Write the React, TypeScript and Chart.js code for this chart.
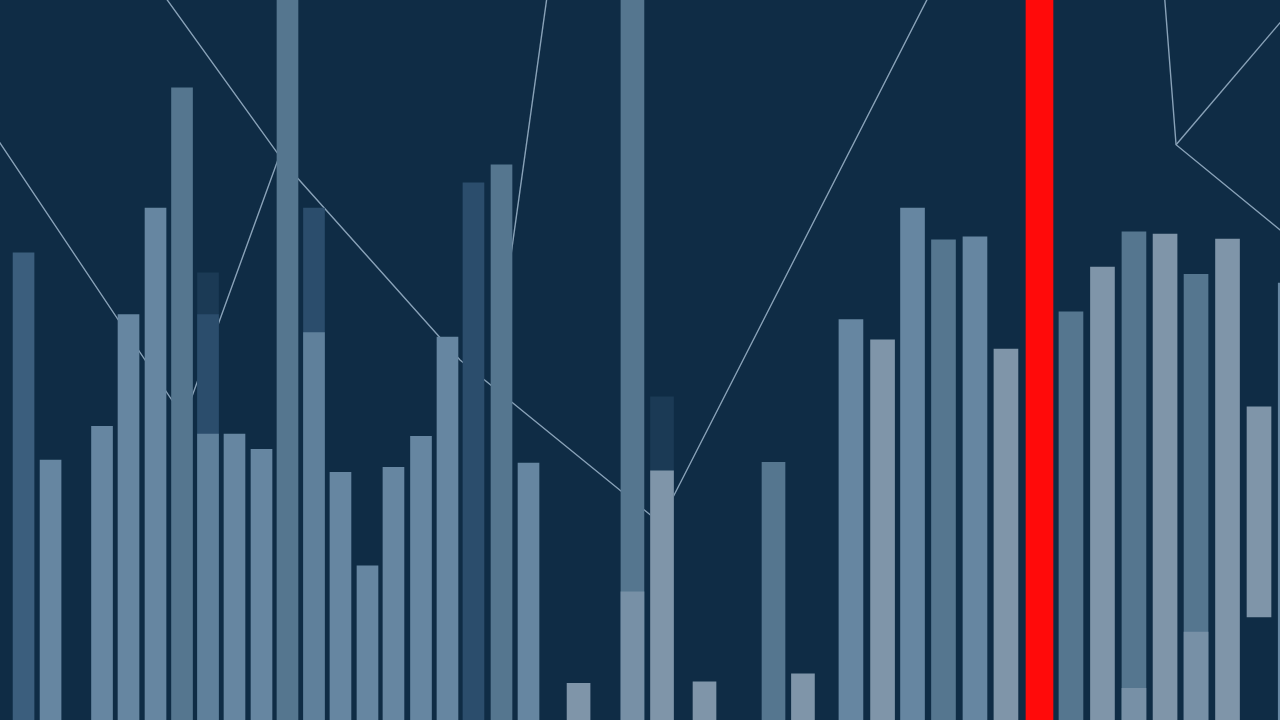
import { useEffect, useRef } from "react";
import { Chart, registerables } from "chart.js";

Chart.register(...registerables);

// ---- Bar series (x = position on a 0–100 horizontal axis, y = value 0–100) ----
const deepX = [1.84];
const deepY = [64.9];

const lightX = [3.95, 7.97, 10.04, 12.15, 18.32, 20.43, 26.6, 28.71, 30.74, 32.89, 34.96, 41.29, 66.48, 71.29, 76.17, 100.8];
const lightY = [36.1, 40.8, 56.3, 71.1, 39.7, 37.6, 34.4, 21.4, 35.1, 39.4, 53.2, 35.7, 55.6, 71.1, 67.1, 60.7];

const midX = [14.22, 22.46, 39.18, 49.41, 60.43, 73.71, 83.67, 88.59, 93.44];
const midY = [87.8, 100, 77.1, 100, 35.8, 66.7, 56.7, 67.8, 61.9];

const darkX = [16.25, 24.53, 36.99];
const darkY = [56.3, 71.1, 74.6];

const paleX = [45.2, 51.72, 55.04, 62.73, 68.95, 78.59, 86.13, 91.02, 95.9];
const paleY = [5.1, 34.6, 5.3, 6.4, 52.8, 51.5, 62.9, 67.5, 66.8];

const redX = [81.21];
const redY = [100];

// faint bars standing behind others
const ghostX = [16.25, 51.72];
const ghostY = [62.1, 44.9];

// lighter lower segments in front of taller bars
const lowerLightX = [16.25, 24.53];
const lowerLightY = [39.7, 53.8];
const lowerPaleX = [49.41, 88.59, 93.44];
const lowerPaleY = [17.8, 4.4, 12.2];

// floating bar (low, high)
const floatX = [98.36];
const floatLow = [14.3];
const floatHigh = [43.5];

// ---- Thin line series ----
const lineAX = [-1.56, 14.38, 22.42];
const lineAY = [84.3, 41.9, 81.25];
const lineBX = [12.5, 22.42, 35.94, 51.56, 72.81];
const lineBY = [101.4, 76.9, 50.0, 27.4, 101.4];
const lineCX = [42.81, 39.61];
const lineCY = [101.4, 60.6];
const lineDX = [90.94, 91.88, 101.56];
const lineDY = [101.4, 79.9, 65.8];
const lineEX = [91.88, 101.56];
const lineEY = [79.9, 100.1];

const BG = "#0f2c45";
const LINE_COLOR = "#89a2b8";

function thicknessFor(x: number): number {
  if (x < 43) return 21;
  if (x < 64) return 23;
  return 24;
}

function barSets(
  label: string,
  xs: number[],
  ys: (number | number[])[],
  color: string,
  order: number,
  fixedThickness?: number
) {
  const groups = new Map<number, { x: number; y: number | number[] }[]>();
  xs.forEach((x, i) => {
    const t = fixedThickness ?? thicknessFor(x);
    if (!groups.has(t)) groups.set(t, []);
    groups.get(t)!.push({ x, y: ys[i] });
  });
  return Array.from(groups.entries()).map(([t, data]) => ({
    type: "bar" as const,
    label: `${label}-${t}`,
    data,
    backgroundColor: color,
    borderWidth: 0,
    barThickness: t,
    grouped: false,
    order,
  }));
}

function lineSet(label: string, xs: number[], ys: number[]) {
  return {
    type: "line" as const,
    label,
    data: xs.map((x, i) => ({ x, y: ys[i] })),
    borderColor: LINE_COLOR,
    borderWidth: 1.4,
    pointRadius: 0,
    tension: 0,
    fill: false,
    order: 10,
  };
}

export default function App() {
  const ref = useRef<HTMLCanvasElement>(null);

  useEffect(() => {
    document.body.style.margin = "0";
    const datasets: any[] = [
      ...barSets("float", floatX, floatX.map((_, i) => [floatLow[i], floatHigh[i]]), "#7f95a9", 1),
      ...barSets("lowerLight", lowerLightX, lowerLightY, "#5f809b", 2),
      ...barSets("lowerPale", lowerPaleX, lowerPaleY, "#7790a6", 2),
      ...barSets("deep", deepX, deepY, "#3b5e7d", 3),
      ...barSets("light", lightX, lightY, "#6686a1", 3),
      ...barSets("mid", midX, midY, "#55768f", 3),
      ...barSets("dark", darkX, darkY, "#2b4d6c", 3),
      ...barSets("pale", paleX, paleY, "#7f95a9", 3),
      ...barSets("red", redX, redY, "#ff0a0a", 3, 27),
      ...barSets("ghost", ghostX, ghostY, "#1b3a55", 4),
      lineSet("lineA", lineAX, lineAY),
      lineSet("lineB", lineBX, lineBY),
      lineSet("lineC", lineCX, lineCY),
      lineSet("lineD", lineDX, lineDY),
      lineSet("lineE", lineEX, lineEY),
    ];
    const chart = new Chart(ref.current!, {
      type: "bar",
      data: { datasets },
      options: {
        animation: false,
        responsive: false,
        events: [],
        layout: { padding: 0 },
        plugins: { legend: { display: false }, tooltip: { enabled: false } },
        scales: {
          x: { type: "linear", min: 0, max: 100, offset: false, display: false },
          y: { type: "linear", min: 0, max: 100, display: false },
        },
      },
    });
    return () => chart.destroy();
  }, []);

  return (
    <div style={{ position: "fixed", left: 0, top: 0, width: 1280, height: 720, background: BG }}>
      <canvas ref={ref} width={1280} height={720} />
    </div>
  );
}
